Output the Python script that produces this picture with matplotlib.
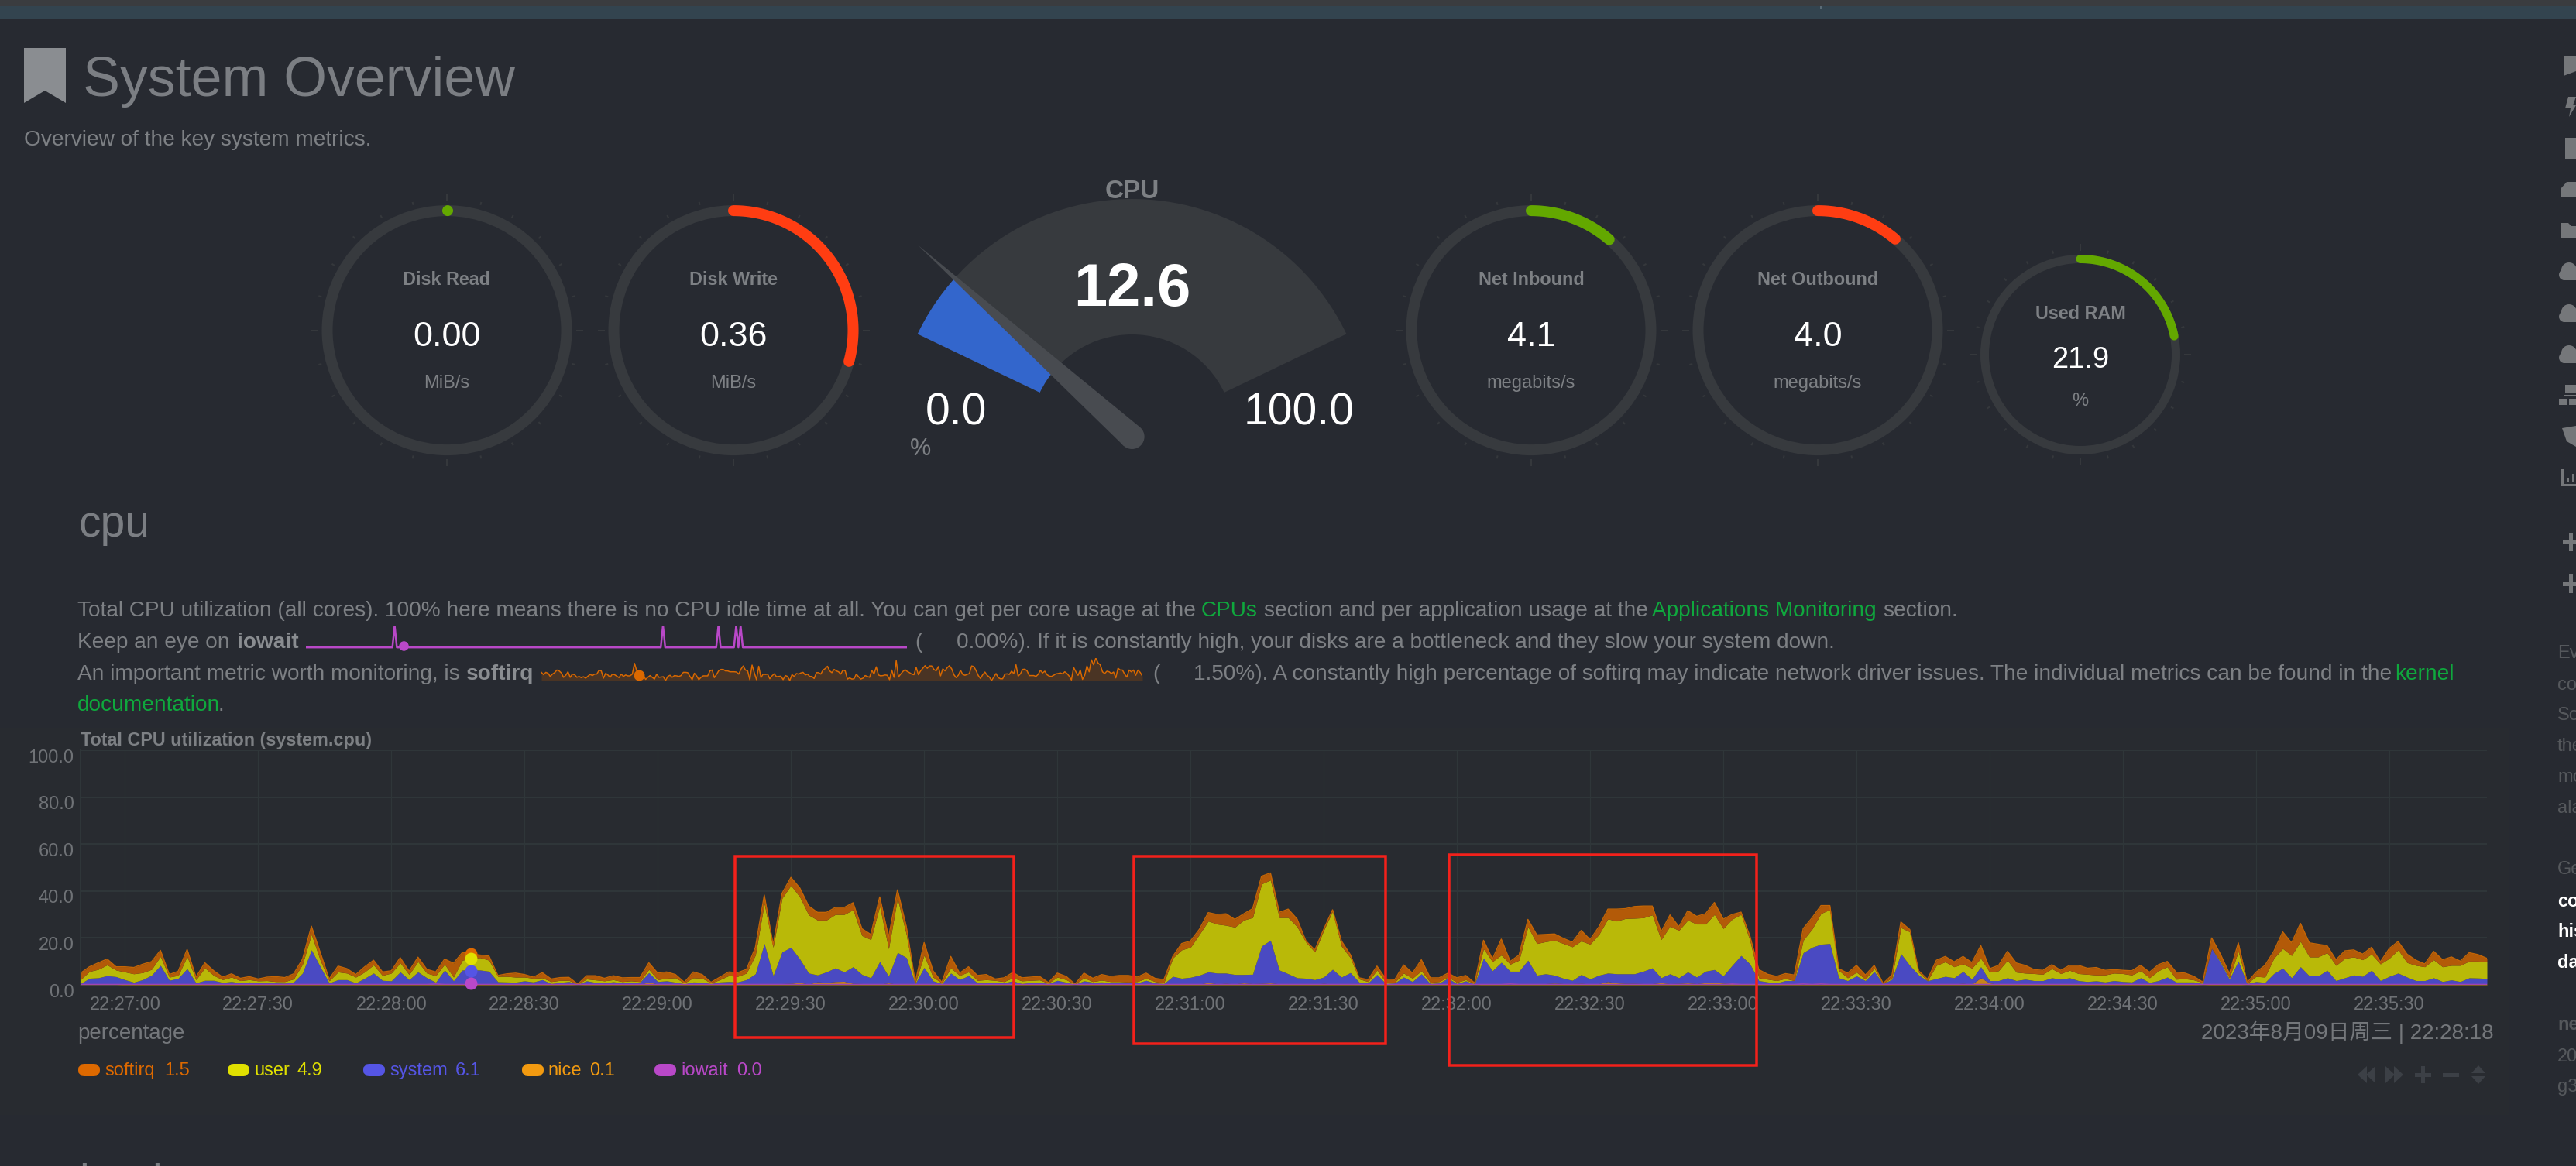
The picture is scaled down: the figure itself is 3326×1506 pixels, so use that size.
import numpy as np
import matplotlib
matplotlib.use("Agg")
import matplotlib.pyplot as plt
from matplotlib.patches import Circle, Polygon, Rectangle, Wedge, FancyBboxPatch
from matplotlib.transforms import ScaledTranslation

W, H = 3326, 1506
PX = 72 / 100  # points per pixel at dpi 100

plt.rcParams["font.family"] = ["Liberation Sans", "Noto Sans CJK SC", "DejaVu Sans"]

PAGE = "#272a31"
CHART_BG = "#282b30"
GRID = "#2f3639"
GREY = "#7d8084"
RING = "#373a3e"
GREEN_LINK = "#0fa83d"

# seconds after 22:27:00, one sample every 2 s
t = np.arange(-10, 534, 2)

xtick_s = [0, 30, 60, 90, 120, 150, 180, 210, 240, 270, 300, 330, 360, 390, 420, 450, 480, 510]
xtick_labels = ["22:27:00", "22:27:30", "22:28:00", "22:28:30", "22:29:00", "22:29:30",
                "22:30:00", "22:30:30", "22:31:00", "22:31:30", "22:32:00", "22:32:30",
                "22:33:00", "22:33:30", "22:34:00", "22:34:30", "22:35:00", "22:35:30"]
ytick_vals = [0, 20, 40, 60, 80, 100]
ytick_labels = ["0.0", "20.0", "40.0", "60.0", "80.0", "100.0"]

# stacked tops
softirq_top = [
    5.0, 7.7, 9.4, 11, 7.7, 7.7, 7.4, 8.8, 9.9, 14.7,
    4.4, 5.8, 15.1, 3.3, 9.4, 6, 3.3, 4.7, 2.8, 3.5,
    2.5, 3.3, 3.5, 3.1, 4.7, 11, 25, 13.8, 2.5, 8,
    6.9, 4.4, 7.7, 10.5, 5.5, 6, 11.6, 5.8, 11.8, 6.6,
    5.5, 11, 9.2, 13.8, 13.2, 12.7, 12.3, 4, 4.7, 5,
    4.4, 3.3, 5.2, 2.5, 3.1, 3.2, .3, 3.9, 3.9, 2.8,
    3.9, 3, 3.1, 3.1, 9.4, 5, 5.5, 4.4, 1.1, 5.5,
    4.4, 1.1, 3.3, 5.5, 5.2, 6.6, 16, 38.3, 17, 39,
    45.8, 41.3, 33.6, 30.9, 30.9, 33, 33, 35, 23.9, 21.5,
    37.5, 20.4, 40.5, 24.8, 1.1, 18, 6, 1.1, 12.1, 5,
    7.7, 4, 4.4, 2.5, 3, 5.3, 3, 3.3, 3.6, 1,
    5, 3.6, .3, 5, 2.8, 4.4, 3.6, 4, 4, 3.3,
    5, 2.8, 2.2, 12.1, 17.6, 18.7, 23.7, 30.8, 30, 30.3,
    27.9, 30.3, 32.5, 46.3, 47.7, 30.9, 32.3, 28.1, 18.7, 14.9,
    23.7, 32, 18.7, 12.9, 3, 2.2, 8, 2.5, 2.2, 8.5,
    5, 10.7, 3, 3, 5, 3, 4, .8, 19, 11,
    19.5, 10, 12.7, 27.9, 21.3, 21.5, 21.7, 19.8, 18.2, 23.2,
    19.3, 24.8, 32.3, 32.3, 32.5, 33.4, 33.6, 33.6, 22.6, 29.8,
    24.8, 31.6, 29.2, 30.3, 35.1, 28, 30, 31, 20.8, 6.5,
    4.5, 3.6, 4.8, 4.2, 24, 28.6, 33.8, 33.8, 6.9, 5,
    8.3, 4.2, 8.3, .6, 4.2, 26.8, 23.6, 6, 2.4, 10.5,
    12.1, 9.8, 12.1, 9.5, 16.7, 6.9, 8.3, 14.3, 9.3, 8.3,
    6.5, 6.2, 8.6, 6.2, 8.3, 8.3, 7.1, 7.4, 6.2, 6.5,
    6.2, 6, 8.3, 5.4, 8.6, 10, 5.4, 5, 3.6, 1.2,
    20, 13, 4.8, 17.9, 1, 5.4, 8.3, 14.3, 22.6, 17.9,
    26.2, 17.9, 17.3, 16.7, 10.7, 14.5, 14.9, 13.1, 16, 9.8,
    15.5, 18.5, 13.1, 10.5, 8.9, 14.3, 10.7, 11.9, 10.1, 13.7,
    12.9, 11.3]

user_top = [
    2.2, 5.7, 6.6, 8.5, 6.3, 5.5, 4.7, 5.2, 6.6, 12.1,
    3.3, 4, 12.1, 2.2, 7.2, 4, 2.2, 3.3, 1.8, 2.2,
    1.7, 1.8, 1.4, 1.4, 2.5, 8.8, 21.5, 10.5, 1.7, 5.5,
    5, 3.3, 5.5, 8.5, 4, 5, 9.4, 4.4, 9.9, 5,
    3.9, 8.8, 3.3, 10.5, 11.3, 11.6, 10.5, 3.6, 3.6, 3.3,
    3.3, 2.8, 3, 1.4, 1.9, 1.9, .3, 2.5, 2.1, 1.7,
    2.2, 1.4, 1.7, 1.4, 6.6, 2.2, 2.8, 3, .8, 3,
    2.8, .8, 2.2, 3.9, 3.6, 5, 12.7, 34.7, 16, 36.9,
    42.4, 37.5, 29.8, 27.6, 27.6, 30, 30, 32, 21, 19.3,
    33.6, 15.4, 36.9, 21.5, .8, 12.7, 3.3, .8, 7.2, 4,
    5.5, 1.9, 2.2, 1.9, 1.4, 3, 1.7, 1.9, 2.1, .7,
    3.3, 2.2, .3, 3, 1.4, 2, 1.4, 1.4, 1.2, 1.4,
    2.8, 1.4, .8, 11.4, 14.9, 16, 21.5, 27.2, 25.9, 25.4,
    24.6, 27.6, 28.7, 43, 44.7, 28.7, 28.7, 24.8, 18.2, 14,
    23.2, 31.4, 16.5, 11.6, 2.5, 1.4, 6.3, 1.1, 1.1, 5,
    2.8, 6, 1.1, 1.4, 3.3, 1.1, 2.2, .5, 15.4, 9.9,
    12.7, 8.8, 10.5, 24.8, 17.6, 18.4, 19, 17.6, 16.2, 18.7,
    17.3, 21.5, 28.1, 27.2, 28.3, 28.4, 28.6, 29.8, 19.3, 25,
    23.2, 27.6, 25.9, 25.9, 30, 24, 28, 30, 19, 3,
    2.4, 1.8, 2.7, 1.8, 19, 23.8, 30.4, 32.1, 6.2, 3,
    5.4, 2.4, 7.1, .6, 3, 24.4, 22.6, 5.4, 1.8, 8.3,
    9.8, 7.7, 8.9, 7.1, 11.3, 5.4, 6, 10.5, 5.4, 5,
    4.8, 4.5, 6.9, 4.8, 6.2, 4.8, 4.5, 4.2, 4.2, 5,
    4.8, 4.2, 6, 3, 6, 7.7, 2.4, 2.6, 2.1, 1,
    15.5, 10, 3, 14.3, .6, 3.6, 3.3, 11.3, 15.5, 12.5,
    18.5, 11.9, 11.9, 13.7, 8.3, 11.3, 11.9, 10.7, 13.1, 8.9,
    11.3, 14.9, 9.5, 8.3, 7.7, 10.7, 7.7, 8.3, 8.3, 10.1,
    10.1, 9.8]

system_top = [
    .5, 2.8, 3, 3.9, 3.5, 2.2, 1.1, 2.2, 4.1, 8.3,
    1.9, 2.8, 6.9, .8, 1.9, 1.9, 1, 1.4, .8, 1.2,
    .8, .8, .8, .7, 1.2, 5, 14.9, 7.7, .8, 2.2,
    2.2, .8, 2.8, 5, 1.9, 1.7, 5.5, 2.2, 5.5, 3,
    1.1, 6.3, 1.7, 6.3, 6.3, 6.3, 5.8, 1.3, 1.2, 1.1,
    1.7, 1.2, 2.2, .5, 1, 1.4, .2, 1.7, 1, .8,
    1.3, .8, 1.1, 1.1, 5.2, 1.4, 1.7, 1.1, .4, 1.2,
    1.1, .5, 1.2, 1.4, 1.2, 2.2, 4.7, 17.6, 3.9, 14,
    16, 11, 5, 4.2, 5.5, 7.2, 5.5, 7.7, 4.4, 3,
    9.9, 3.6, 13.8, 11.6, .5, 7.4, 1.7, .5, 5, 2.2,
    3.9, .8, .8, 1, .8, 1.7, .5, 1, 1.1, .5,
    1.9, 1.1, .2, 1.7, 1.1, 1.2, 1, 1, 1.1, .8,
    1.9, .8, .5, 3.6, 2.8, 3.2, 4.1, 5.5, 5, 5,
    4.4, 4.4, 4.5, 16.5, 19, 6.3, 4.7, 3, 2.8, 2.2,
    3.3, 6.6, 3.3, 5.2, 1.1, .8, 4.4, .5, .8, 3.3,
    1.4, 4.7, .5, .8, 2.8, .5, 1.7, .3, 11.4, 6,
    9.6, 5.8, 5.8, 10.5, 4.1, 4.7, 4.1, 2.8, 1.9, 4.4,
    2.5, 4.1, 5, 4.7, 4.7, 4.7, 5.8, 7.2, 3, 4.7,
    3, 5.5, 3.3, 5.8, 6.5, 3.8, 8.3, 12.5, 8.9, 1.8,
    1.2, .8, 1.8, 1.8, 13.7, 16, 17.3, 17.6, 3, 1.8,
    3.8, 1.8, 5.7, .5, 2.4, 13.3, 8.3, 4.2, 1.7, 2.7,
    3.6, 3, 5.7, 2.4, 7.7, 1.8, 1.8, 3, 1.8, 2.4,
    1.8, 1.8, 3, 2.4, 3, 1.8, 1.4, 1.7, 1.2, 1.8,
    1.4, 1.2, 3, 1, 1.8, 3.3, 1.2, 1.2, 1.2, .5,
    15.5, 9.5, 2.4, 10.1, .5, 1.4, 1, 4.8, 7.1, 3,
    7.7, 3.8, 3.8, 6.2, 1.8, 3, 4.2, 3.6, 6.2, 1.8,
    3.6, 5, 3.3, 1.8, 1.8, 3, 1.4, 2.1, 1.4, 3,
    2.9, 2.7]

nice = [
    .1, .1, .1, .1, .1, .2, .2, .2, .2, .2,
    .2, .2, .2, .2, .2, .2, .2, .2, .2, .2,
    .2, .2, .2, .2, .3, .3, .2, .2, .2, .2,
    .2, .2, .2, .2, .2, .2, .2, .2, .2, .2,
    .3, .4, .5, .5, .4, .3, .3, .2, .2, .2,
    .2, .2, .2, .2, .2, .2, .1, .2, .2, .2,
    .2, .2, .2, .2, 1.2, .3, .2, .2, .2, .2,
    .2, .2, .2, .2, .2, .2, .2, .3, .2, .5,
    .6, 1, .3, 1.3, 1, 1.4, 1.5, .6, .5, .4,
    .3, .8, .2, .3, .2, .3, .2, .2, .2, .3,
    .2, .2, .2, .2, .2, .2, .2, .2, .2, .2,
    .2, .2, .1, .2, .2, .2, .2, .2, .2, .2,
    .2, .2, .2, .2, .2, .4, .3, 1, .4, .6,
    .4, .8, .5, .6, .8, .4, .5, .3, .3, .3,
    .6, .3, .2, .2, .2, .2, .2, .2, .2, .2,
    .2, .2, .2, .2, .2, .2, .2, .1, .2, .2,
    .2, .2, .2, .3, .3, .5, .7, .5, .5, .6,
    .4, .5, 1.4, .8, .6, .6, .5, .5, .9, .5,
    .6, .8, .5, .9, 1, .7, .5, .3, .2, .2,
    .2, .2, .2, .2, .2, .2, .2, .2, .2, .2,
    .2, .2, .2, .2, .2, .5, .2, .2, .2, .2,
    .3, .4, .6, .3, 3, .8, .2, .4, .3, .3,
    .2, .2, .2, .2, .2, .2, .2, .2, .2, .2,
    .2, .2, .2, .2, .2, .2, .2, .2, .2, .1,
    .2, .2, .2, .2, .1, .2, .2, .2, .3, .3,
    .3, .2, .3, .3, .2, .3, .3, .3, .3, .2,
    .3, .3, .3, .3, .2, .3, .2, .2, .3, .4,
    .4, .4]

# iowait is flat apart from five short spikes (seen in the sparkline)
iowait_spike_s = [70, 312, 362, 378, 382]
iowait_spike_val = [.2, .2, .2, .2, .2]

legend_names = ["softirq", "user", "system", "nice", "iowait"]
legend_values = ["1.5", "4.9", "6.1", "0.1", "0.0"]
legend_colors = ["#dd6900", "#e0e000", "#5555e5", "#f29a10", "#b948c8"]

# name, value, unit, percent of ring filled, colour
ring_names = ["Disk Read", "Disk Write", "Net Inbound", "Net Outbound", "Used RAM"]
ring_values = ["0.00", "0.36", "4.1", "4.0", "21.9"]
ring_units = ["MiB/s", "MiB/s", "megabits/s", "megabits/s", "%"]
ring_pct = [0.0, 29.2, 11.3, 11.2, 21.9]
ring_colors = ["#63a800", "#ff3d12", "#63a800", "#ff3d12", "#63a800"]

cpu_value = 12.6

t = np.asarray(t, dtype=float)
softirq_top = np.array(softirq_top)
user_top = np.array(user_top)
system_top = np.array(system_top)
nice = np.array(nice)
softirq = softirq_top - user_top
iowait = np.zeros(len(t))
iowait[[int((s + 10) / 2) for s in iowait_spike_s]] = iowait_spike_val


def px_axes(x0, y0, x1, y1, **kw):
    return fig.add_axes([x0 / W, 1 - y1 / H, (x1 - x0) / W, (y1 - y0) / H], **kw)


fig = plt.figure(figsize=(W / 100, H / 100), dpi=100, facecolor=PAGE)

# slightly lighter panel behind the chart
bg = fig.add_axes([0, 0, 1, 1], zorder=0)
bg.set_xlim(0, W)
bg.set_ylim(H, 0)
bg.axis("off")
bg.add_patch(Rectangle((0, 940), 3240, 500, fc=CHART_BG, ec="none"))

# overlay in pixel coordinates for page furniture
ov = fig.add_axes([0, 0, 1, 1], zorder=5)
ov.set_xlim(0, W)
ov.set_ylim(H, 0)
ov.axis("off")
ov.patch.set_alpha(0)


def txt(x, y, s, size, color=GREY, weight="normal", ha="left"):
    return ov.text(x, y, s, fontsize=size, color=color, fontweight=weight, ha=ha, va="baseline")


def rect(x0, y0, x1, y1, color, z=0):
    ov.add_patch(Rectangle((x0, y0), x1 - x0, y1 - y0, fc=color, ec="none", zorder=z))


# top strip
rect(0, 0, W, 8, "#3a3c3f")
rect(0, 8, W, 24, "#33444f")
rect(2350, 8, 2352, 12, "#5a6b76")

# heading
ov.add_patch(Polygon([(31, 62), (85, 62), (85, 133), (58, 117), (31, 133)], fc="#8a8d91", ec="none"))
txt(107, 123.5, "System Overview", 51.7, "#7b7e83")
txt(31, 188, "Overview of the key system metrics.", 20.2)


def ring_gauge(cx, cy, r, thick, name, value, unit, pct, color, base_y, sizes):
    rm = r - thick / 2
    ov.add_patch(Circle((cx, cy), rm, fill=False, ec=RING, lw=thick * PX))
    for k in range(24):
        a = np.radians(k * 15)
        long_t = k % 6 == 0
        r0 = r + (6 if not long_t else 5)
        r1 = r + (10 if not long_t else 14)
        ov.plot([cx + r0 * np.sin(a), cx + r1 * np.sin(a)],
                [cy - r0 * np.cos(a), cy - r1 * np.cos(a)],
                color="#35383c", lw=2 * PX, solid_capstyle="butt")
    if pct > 0:
        a = np.radians(np.linspace(0, pct * 3.6, 120))
        ov.plot(cx + rm * np.sin(a), cy - rm * np.cos(a), color=color, lw=thick * PX,
                solid_capstyle="round", zorder=3)
    else:
        ov.add_patch(Circle((cx + 1, cy - rm), thick / 2, fc=color, ec="none", zorder=3))
    txt(cx, base_y[0], name, sizes[0], weight="bold", ha="center")
    txt(cx, base_y[1], value, sizes[1], "white", ha="center")
    txt(cx, base_y[2], unit, sizes[2], ha="center")


ring_geo = [(577, 426.6, 161.5, 14), (947, 426.6, 161.5, 14), (1977, 426.6, 161.5, 14),
            (2347, 426.6, 161.5, 14), (2686, 458, 129, 11)]
for i in range(4):
    ring_gauge(*ring_geo[i], ring_names[i], ring_values[i], ring_units[i], ring_pct[i], ring_colors[i],
               (368, 447, 501), (16.8, 32.5, 17))
ring_gauge(*ring_geo[4], ring_names[4], ring_values[4], ring_units[4], ring_pct[4], ring_colors[4],
           (412, 475, 524), (16.8, 27.5, 17))

# CPU gauge
gx, gy, g_out, g_in = 1461.6, 564, 307, 132
a_left, a_right = 154.4, 25.6
a_val = a_left - (a_left - a_right) * cpu_value / 100


def sector(a0, a1, color, z):
    # image y points down so angles are mirrored for the patch
    ov.add_patch(Wedge((gx, gy), g_out, -a0, -a1, width=g_out - g_in, fc=color, ec="none", zorder=z))


sector(a_left, a_right, RING, 1)
sector(a_left, a_val, "#3366cc", 2)
a = np.radians(a_val)
tip = (gx + 371 * np.cos(a), gy - 371 * np.sin(a))
n = (np.sin(a) * 16, np.cos(a) * 16)
ov.add_patch(Polygon([tip, (gx + n[0], gy + n[1]), (gx - n[0], gy - n[1])], fc="#484b50", ec="none", zorder=3))
ov.add_patch(Circle((gx, gy), 16, fc="#484b50", ec="none", zorder=3))
txt(gx, 256, "CPU", 24, weight="bold", ha="center")
txt(gx, 395, f"{cpu_value:.1f}", 56, "white", weight="bold", ha="center")
txt(1234, 548, "0.0", 41, "white", ha="center")
txt(1677, 548, "100.0", 41, "white", ha="center")
txt(1189, 588, "%", 22, ha="center")

# cpu section text
txt(102, 693, "cpu", 41, "#7b7e83")
BODY = 20.2
txt(100, 796, "Total CPU utilization (all cores). 100% here means there is no CPU idle time at all. "
              "You can get per core usage at the", BODY)
txt(1551, 796, "CPUs", BODY, GREEN_LINK)
txt(1632, 796, "section and per application usage at the", BODY)
txt(2133, 796, "Applications Monitoring", BODY, GREEN_LINK)
txt(2431, 796, "section.", BODY)
txt(100, 837, "Keep an eye on", BODY)
txt(306, 837, "iowait", BODY, "#8a8d91", weight="bold")
txt(1181, 837, "(", BODY)
txt(1235, 837, "0.00%). If it is constantly high, your disks are a bottleneck and they slow your system down.", BODY)
txt(100, 878, "An important metric worth monitoring, is", BODY)
txt(602, 878, "softirq", BODY, "#8a8d91", weight="bold")
txt(1488, 878, "(", BODY)
txt(1541, 878, "1.50%). A constantly high percentage of softirq may indicate network driver issues. "
               "The individual metrics can be found in the", BODY)
txt(3092, 878, "kernel", BODY, GREEN_LINK)
txt(100, 918, "documentation", BODY, GREEN_LINK)
txt(282, 918, ".", BODY)

# sparklines
sp1 = px_axes(395, 808, 1171, 838, zorder=2)
sp1.set_xlim(t[0], t[-1])
sp1.set_ylim(-0.013, 0.2)
sp1.plot(t, iowait, color="#b948c8", lw=1.8)
sp1.axis("off")
sp2 = px_axes(699, 850, 1475, 879, zorder=2)
sp2.set_xlim(t[0], t[-1])
sp2.set_ylim(0, softirq.max())
sp2.fill_between(t, 0, softirq, color="#4a3424", lw=0)
sp2.plot(t, softirq, color="#d96800", lw=1.1)
sp2.axis("off")
sp1.plot([t[44]], [0.015], "o", color="#b948c8", ms=8, clip_on=False)
sp2.plot([t[44]], [softirq[44]], "o", color="#dd6900", ms=9, clip_on=False)

# main chart
ax = px_axes(104, 969, 3211, 1272, zorder=3)
ax.set_facecolor(CHART_BG)
ax.set_xlim(-10, 532)
ax.set_ylim(0, 100)
ax.set_xticks(xtick_s, xtick_labels)
ax.set_yticks(ytick_vals, ytick_labels)
ax.grid(axis="y", color=GRID, lw=2 * PX)
ax.grid(axis="x", color=GRID, lw=1.2 * PX)
ax.set_axisbelow(True)
for side, sp in ax.spines.items():
    sp.set_visible(side == "left")
    sp.set_color(GRID)
    sp.set_linewidth(2 * PX)
ax.tick_params(length=0, labelsize=17, colors="#6f7276")
ax.tick_params(axis="x", pad=11)
ax.tick_params(axis="y", pad=6)
shift = ScaledTranslation(0, -7 / 100, fig.dpi_scale_trans)
for lab in ax.get_yticklabels():
    lab.set_transform(lab.get_transform() + shift)

ax.fill_between(t, 0, nice, color="#c78419", lw=0, zorder=2)
ax.fill_between(t, nice, system_top, color="#4a4ac2", lw=0, zorder=2)
ax.fill_between(t, system_top, user_top, color="#b9b908", lw=0, zorder=2)
ax.fill_between(t, user_top, softirq_top, color="#b35a08", lw=0, zorder=2)
ax.plot(t, softirq_top, color="#c46505", lw=1.0, zorder=3)
ax.plot(t, iowait + 0.15, color="#a045b0", lw=1.2, zorder=3)

hover = 44
hover_y = [softirq_top[hover], user_top[hover], system_top[hover] - 0.3, 0.5]
hover_c = [legend_colors[0], legend_colors[1], legend_colors[2], legend_colors[4]]
for yy, cc in zip(hover_y, hover_c):
    ax.plot([t[hover]], [yy], "o", color=cc, ms=11.5, mew=0, zorder=4, clip_on=False)

txt(104, 962.7, "Total CPU utilization (system.cpu)", 16.8, weight="bold")
txt(100, 1341.7, "percentage", 20, "#74777b")
txt(3220, 1342.5, "2023年8月09日周三 | 22:28:18", 20, "#74777b", ha="right")

# legend
sw_x = [101, 294, 469, 674, 845]
name_x = [135, 328, 503, 707, 879]
val_x = [212, 384, 588, 761, 951]
for i in range(5):
    ov.add_patch(FancyBboxPatch((sw_x[i] + 6, 1380), 16, 4, boxstyle="round,pad=0,rounding_size=2",
                                mutation_aspect=1, fc=legend_colors[i], ec=legend_colors[i], lw=12 * PX))
    txt(name_x[i], 1389, legend_names[i], 17, legend_colors[i])
    txt(val_x[i], 1389, legend_values[i], 17, legend_colors[i])

# red boxes drawn on the screenshot
for x0, y0, x1, y1 in [(948.6, 1106, 1308.6, 1340), (1464, 1106, 1788.6, 1348), (1871, 1104, 2268, 1376)]:
    ov.add_patch(Rectangle((x0, y0), x1 - x0, y1 - y0, fill=False, ec="#f3211b", lw=3.5 * PX, zorder=6))

# chart controls
CTRL = "#3c4046"
for xa in (3044, 3080):
    d = 1 if xa == 3080 else -1
    for off in (0, 11):
        x_b = xa + off if d == 1 else xa + 12 + off
        ov.add_patch(Polygon([(x_b, 1377), (x_b + 12 * d, 1388), (x_b, 1399)], fc=CTRL, ec="none"))
rect(3118, 1385.5, 3139, 1390.5, CTRL)
rect(3126, 1377, 3131, 1399, CTRL)
rect(3154, 1385.5, 3175, 1390.5, CTRL)
ov.add_patch(Polygon([(3191, 1386), (3209, 1386), (3200, 1376)], fc=CTRL, ec="none"))
ov.add_patch(Polygon([(3191, 1390), (3209, 1390), (3200, 1400)], fc=CTRL, ec="none"))

# right sidebar text, cut by the edge of the screenshot
DIM = "#55585c"
side_lines = [("Ev", 850, DIM, "normal"), ("co", 891, DIM, "normal"), ("So", 930, DIM, "normal"),
              ("the", 970, DIM, "normal"), ("mo", 1010, DIM, "normal"), ("ala", 1050, DIM, "normal"),
              ("Ge", 1129, DIM, "normal"), ("co", 1171, "white", "bold"), ("his", 1210, "white", "bold"),
              ("da", 1250, "white", "bold"), ("ne", 1330, DIM, "bold"), ("20", 1371, DIM, "normal"),
              ("g3", 1410, DIM, "normal")]
for s, yy, cc, ww in side_lines:
    txt(3302, yy, s, 17, cc, weight=ww)

# right sidebar icons
ICON = "#75777a"
ov.add_patch(Polygon([(3310, 72), (3326, 72), (3326, 92), (3310, 98)], fc=ICON, ec="none"))
ov.add_patch(Polygon([(3316, 125), (3326, 125), (3322, 136), (3326, 136), (3317, 151), (3319, 140), (3312, 140)],
                     fc=ICON, ec="none"))
rect(3312, 178, 3326, 205, ICON)
rect(3306, 244, 3326, 254, ICON)
ov.add_patch(Polygon([(3306, 244), (3314, 235), (3326, 235), (3326, 244)], fc=ICON, ec="none"))
ov.add_patch(Polygon([(3306, 308), (3306, 288), (3316, 288), (3320, 292), (3326, 292), (3326, 308)], fc=ICON, ec="none"))
for cy in (351, 405, 458):
    ov.add_patch(Circle((3317, cy - 2), 10, fc=ICON, ec="none"))
    ov.add_patch(Circle((3311, cy + 4), 7, fc=ICON, ec="none"))
    rect(3311, cy, W, cy + 11, ICON)
rect(3312, 497, 3326, 507, ICON)
rect(3304, 515, 3315, 523, ICON)
rect(3317, 515, 3326, 523, ICON)
rect(3310, 510, 3326, 512, ICON)
ov.add_patch(Polygon([(3308, 553), (3326, 550), (3326, 577), (3314, 570)], fc=ICON, ec="none"))
rect(3307, 606, 3310, 628, ICON)
rect(3307, 625, 3326, 628, ICON)
rect(3314, 617, 3317, 623, ICON)
rect(3321, 612, 3324, 623, ICON)
for cy in (700, 754):
    rect(3309, cy - 2.5, 3326, cy + 2.5, ICON)
    rect(3317, cy - 12, 3322, min(cy + 12, H), ICON)

# top of the next section heading, mostly below the picture
txt(102, 1544, "load", 41, "#7b7e83")

fig.savefig("out.png", dpi=100, facecolor=PAGE)
